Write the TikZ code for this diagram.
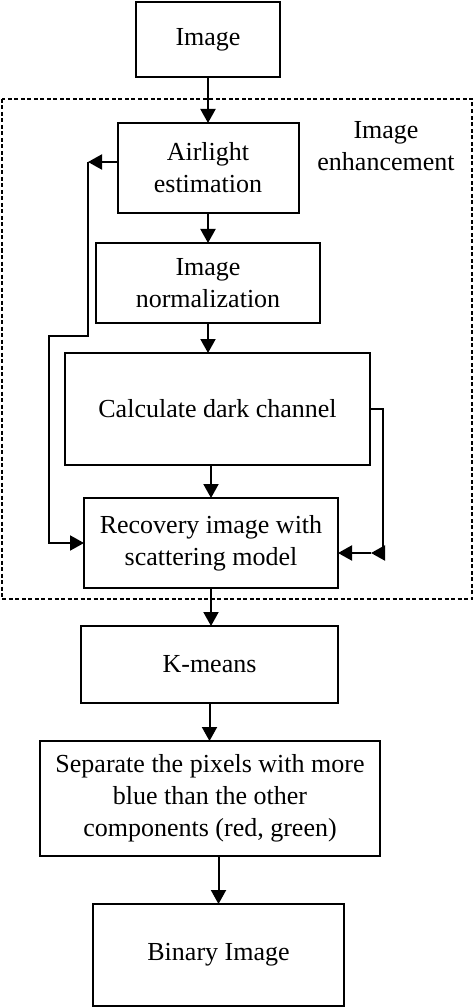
\documentclass[tikz,border=0pt]{standalone}
\usepackage{fontspec}
\setmainfont{Liberation Serif}
\usetikzlibrary{arrows.meta,positioning}

\begin{document}
\begin{tikzpicture}[x=1pt,y=-1pt,>={Triangle[length=14pt,width=15pt]},line width=2pt,
  box/.style={draw,align=center,inner sep=0pt,outer sep=0pt,font=\fontsize{26}{32}\selectfont}]
  \useasboundingbox (0,0) rectangle (474,1008);
  \node[box,minimum width=144pt,minimum height=75pt] (img) at (208,39.5) {Image};
  \node[box,minimum width=181pt,minimum height=90pt,below=46pt of img] (air) {Airlight\\estimation};
  \node[box,minimum width=224pt,minimum height=80pt,below=30pt of air] (norm) {Image\\normalization};
  \node[box,minimum width=305pt,minimum height=112pt,below=30pt of norm,xshift=9.5pt] (dark) {Calculate dark channel};
  \node[box,minimum width=254pt,minimum height=90pt,below=33pt of dark,xshift=-6.5pt] (rec) {Recovery image with\\scattering model};
  \node[box,minimum width=257pt,minimum height=77pt,below=38pt of rec,xshift=-1.5pt] (km) {K-means};
  \node[box,minimum width=340pt,minimum height=115pt,below=38pt of km,xshift=0.5pt] (sep) {Separate the pixels with more\\blue than the other\\components (red, green)};
  \node[box,minimum width=251pt,minimum height=102pt,below=48pt of sep,xshift=8.5pt] (bin) {Binary Image};
  % enhancement block
  \coordinate (enhnw) at (2,99);
  \coordinate (enhse) at (472,599);
  \draw[line width=1.8pt,dash pattern=on 4pt off 2.5pt] (enhnw) rectangle (enhse);
  \node[align=center,font=\fontsize{26}{32}\selectfont] (enhlbl) at (386,146) {Image\\enhancement};
  \draw[->] (img) -- (air); \draw[->] (air) -- (norm); \draw[->] (norm) -- (norm |- dark.north);
  \draw[->] (rec |- dark.south) -- (rec); \draw[->] (rec) -- (rec |- km.north);
  \draw[->] (km) -- (km |- sep.north); \draw[->] (sep.south -| bin) -- (bin);
  % feedback loops
  \coordinate (ltop) at (88,162);
  \coordinate (lbot) at (49,336);
  \draw[->] ([yshift=6pt]air.west) -- (ltop);
  \draw[->] (ltop) |- (lbot) |- (rec.west);
  \coordinate (rcor) at (383,553);
  \coordinate (rtip) at (371,553);
  \draw (dark.east) -| (rcor);
  \draw[->] (rcor) -- (rtip);
  \draw[->] (rtip) -- ([yshift=-10pt]rec.east);
\end{tikzpicture}
\end{document}
